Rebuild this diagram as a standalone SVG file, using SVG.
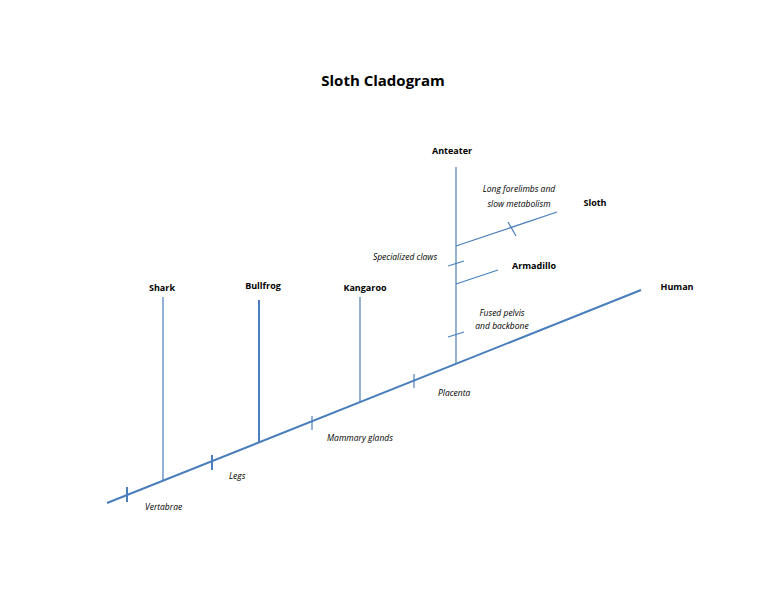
<svg xmlns="http://www.w3.org/2000/svg" width="768" height="594" viewBox="0 0 768 594">
<style>
.l{stroke:#4a7ebb;stroke-width:1.2;fill:none}
.m{stroke:#4a7ebb;stroke-width:2;fill:none}
.n{font-family:"Open Sans","Liberation Sans",sans-serif;font-size:9px;font-weight:bold;fill:#000}
.c{font-family:"Open Sans","Liberation Sans",sans-serif;font-size:8.5px;font-style:italic;fill:#000}
</style>
<rect width="768" height="594" fill="#fff"/>
<text x="383" y="86" text-anchor="middle" font-family="'Open Sans','Liberation Sans',sans-serif" font-size="15" font-weight="bold">Sloth Cladogram</text>
<g id="connectors">
<line class="m" x1="107" y1="503" x2="641" y2="290"/>
<line class="l" x1="163" y1="297" x2="163" y2="481"/>
<line class="m" x1="259" y1="300" x2="259" y2="442"/>
<line class="l" x1="360" y1="297" x2="360" y2="402"/>
<line class="l" x1="456" y1="167" x2="456" y2="364"/>
<line class="l" x1="456" y1="284" x2="498" y2="270"/>
<line class="l" x1="456" y1="246" x2="557" y2="212"/>
<line class="m" x1="127" y1="487" x2="127" y2="502"/>
<line class="m" x1="212" y1="455" x2="212" y2="470"/>
<line class="l" x1="312" y1="416" x2="312" y2="430"/>
<line class="l" x1="414" y1="374" x2="414" y2="388"/>
<line class="l" x1="448" y1="337" x2="464" y2="332"/>
<line class="l" x1="448" y1="266" x2="464" y2="261"/>
<line class="l" x1="508" y1="222" x2="516" y2="236"/>
</g>
<g id="shark"><text class="n" x="162" y="291" text-anchor="middle">Shark</text></g>
<g id="bullfrog"><text class="n" x="263" y="289" text-anchor="middle">Bullfrog</text></g>
<g id="kangaroo"><text class="n" x="365" y="291" text-anchor="middle">Kangaroo</text></g>
<g id="anteater"><text class="n" x="452" y="154" text-anchor="middle">Anteater</text></g>
<g id="sloth"><text class="n" x="595" y="206" text-anchor="middle" font-size="10">Sloth</text></g>
<g id="armadillo"><text class="n" x="534" y="269" text-anchor="middle">Armadillo</text></g>
<g id="human"><text class="n" x="677" y="290" text-anchor="middle">Human</text></g>
<g id="traits">
<text class="c" x="145" y="510">Vertabrae</text>
<text class="c" x="229" y="479">Legs</text>
<text class="c" x="327" y="441">Mammary glands</text>
<text class="c" x="438" y="396">Placenta</text>
<text class="c" x="502" y="316" text-anchor="middle">Fused pelvis</text>
<text class="c" x="502" y="329" text-anchor="middle">and backbone</text>
<text class="c" x="405" y="260" text-anchor="middle">Specialized claws</text>
<text class="c" x="519" y="192" text-anchor="middle">Long forelimbs and</text>
<text class="c" x="519" y="207" text-anchor="middle">slow metabolism</text>
</g>
</svg>
